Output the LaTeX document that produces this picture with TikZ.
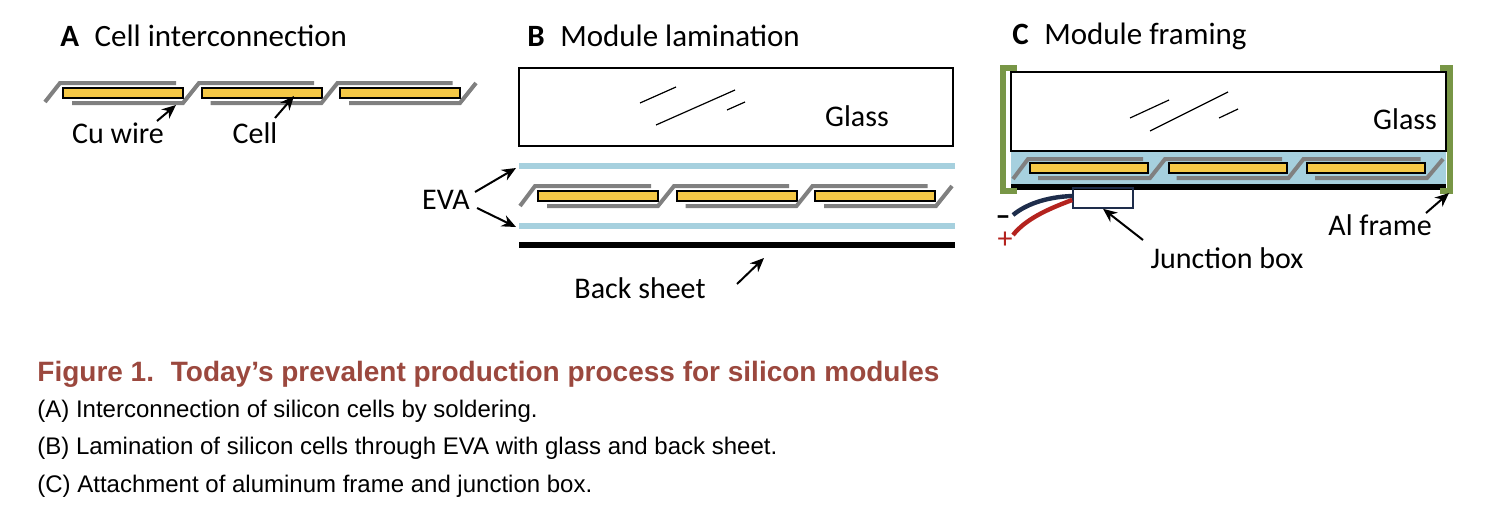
\documentclass[tikz,border=0pt]{standalone}
\usetikzlibrary{arrows.meta}
\usepackage{fontspec}
\setmainfont{Carlito}
\newfontfamily\capfont{Liberation Sans}
\definecolor{cellY}{RGB}{245,200,70}
\definecolor{wireG}{RGB}{128,128,128}
\definecolor{evaB}{RGB}{166,208,222}
\definecolor{frameG}{RGB}{120,150,70}
\definecolor{navyC}{RGB}{30,45,75}
\definecolor{redC}{RGB}{180,35,30}
\definecolor{capC}{RGB}{155,72,62}
\begin{document}
\begin{tikzpicture}[x=0.5pt,y=-0.5pt,
  cell/.style={draw=black,line width=1pt,fill=cellY},
  wire/.style={draw=wireG,line width=2pt},
  eva/.style={draw=evaB,line width=3.2pt},
  back/.style={draw=black,line width=3pt},
  arr/.style={-{Stealth[length=7pt,width=6pt]},line width=1pt},
  lbl/.style={font=\fontsize{15}{18}\selectfont,inner sep=0pt},
  ttl/.style={font=\fontsize{15.5}{18}\selectfont,inner sep=0pt,anchor=west},
  scr/.style={line width=0.6pt},
  frame/.style={draw=frameG,line width=2.6pt},
  captxt/.style={font=\capfont\fontsize{12}{14}\selectfont,anchor=west,inner sep=0pt}]
\useasboundingbox (0,0) rectangle (1486,530);
% ---- A ----
\node[ttl] (tA) at (60,36) {\textbf{A}\hspace{0.5em}Cell interconnection};
\foreach \o in {0,138.5,277}{
  \draw[cell] (63+\o,88) rectangle (183+\o,98);
}
\draw[wire] (45,102)--(60,83)--(176,83);
\foreach \o in {0,138.5}{
  \draw[wire] (72+\o,103)--(183+\o,103)--(199+\o,83)--(314+\o,83);
}
\draw[wire] (349,103)--(460,103)--(476,83);
\node[lbl] (cu) at (118,133) {Cu wire};
\node[lbl] (ce) at (255,133) {Cell};
\coordinate (cuT) at (176,105); \coordinate (ceT) at (294,96);
\draw[arr] (157,121)--(cuT);
\draw[arr] (275,118)--(ceT);
% ---- B ----
\node[ttl] (tB) at (527,36) {\textbf{B}\hspace{0.5em}Module lamination};
\draw[line width=0.8pt] (519,68) rectangle (953,146);
\node[lbl] (gB) at (857,116) {Glass};
\draw[scr] (640,103)--(676,87) (656,125)--(735,90) (727,110)--(745,102);
\draw[eva] (519,166)--(955,166);
\draw[eva] (519,226)--(955,226);
\foreach \o in {0,138.5,277}{
  \draw[cell] (538+\o,191) rectangle (658+\o,201);
}
\draw[wire] (520,206)--(535,186)--(651,186);
\foreach \o in {0,138.5}{
  \draw[wire] (547+\o,206)--(658+\o,206)--(674+\o,186)--(789+\o,186);
}
\draw[wire] (824,206)--(936,206)--(952,186);
\draw[back] (519,245)--(955,245);
\node[lbl] (eva) at (446,200) {EVA};
\coordinate (e1) at (516,168); \coordinate (e2) at (516,227);
\draw[arr] (475,192)--(e1);
\draw[arr] (477,208)--(e2);
\node[lbl] (bs) at (640,288) {Back sheet};
\coordinate (bsT) at (764,258);
\draw[arr] (737,284)--(bsT);
% ---- C ----
\node[ttl] (tC) at (1012,36) {\textbf{C}\hspace{0.5em}Module framing};
\fill[evaB] (1011,151) rectangle (1446,186);
\draw[line width=0.8pt,fill=white] (1011,72) rectangle (1446,151);
\node[lbl] (gC) at (1405,119) {Glass};
\draw[scr] (1130,118)--(1169,100) (1150,131)--(1228,92) (1219,118)--(1238,109);
\foreach \o in {0,138.5,277}{
  \draw[cell] (1030+\o,163) rectangle (1148+\o,173);
}
\draw[wire] (1013,179)--(1028,159)--(1143,159);
\foreach \o in {0,138.5}{
  \draw[wire] (1038+\o,178)--(1150+\o,178)--(1165+\o,159)--(1282+\o,159);
}
\draw[wire] (1315,178)--(1427,178)--(1443,159);
\draw[back] (1011,187)--(1446,187);
\draw[frame] (1017,68)--(1003,68)--(1003,191)--(1017,191);
\draw[frame] (1440,68)--(1450,68)--(1450,191)--(1440,191);
\node[draw=navyC,line width=0.8pt,minimum width=30pt,minimum height=10pt,inner sep=0pt] (jb) at (1103,198) {};
\draw[navyC,line width=2.2pt] (jb.west) ++(0,-2) .. controls (1045,197) and (1025,205) .. (1013,215);
\draw[redC,line width=2.2pt] (jb.west) ++(0,2) .. controls (1045,210) and (1025,220) .. (1013,235);
\node[lbl] (mi) at (1003,221) {\textbf{--}};
\node[lbl,text=redC] (pl) at (1005,240) {+};
\node[lbl] (jbl) at (1227,258) {Junction box};
\draw[arr] (1143,240)--(jb.south);
\node[lbl] (al) at (1380,225) {Al frame};
\coordinate (alT) at (1449,193);
\draw[arr] (1426,213)--(alT);
% ---- caption ----
\node[captxt,text=capC,font=\capfont\bfseries\fontsize{14}{16}\selectfont] (c0) at (37,374) {Figure 1.\hspace{0.6em}Today’s prevalent production process for silicon modules};
\node[captxt] (c1) at (37,411) {(A) Interconnection of silicon cells by soldering.};
\node[captxt] (c2) at (37,448) {(B) Lamination of silicon cells through EVA with glass and back sheet.};
\node[captxt] (c3) at (37,486) {(C) Attachment of aluminum frame and junction box.};
\end{tikzpicture}
\end{document}
